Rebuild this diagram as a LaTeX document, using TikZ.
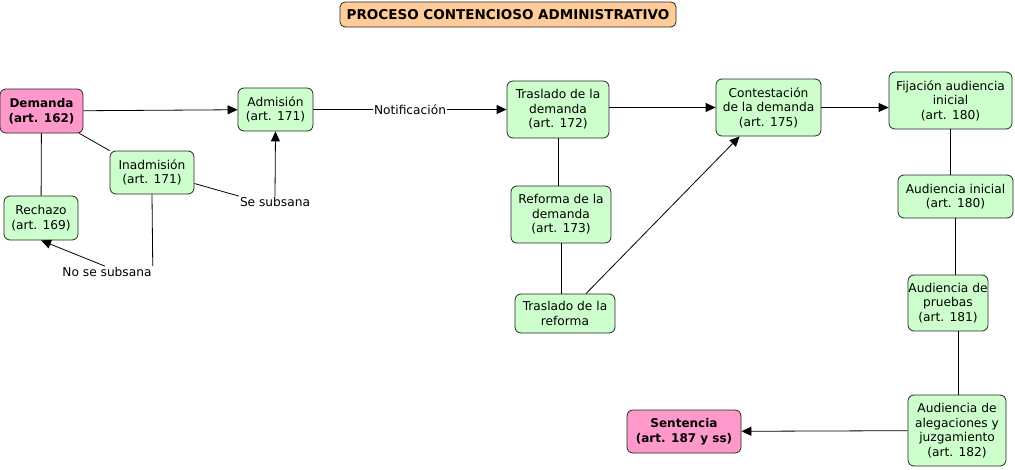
\documentclass[tikz,border=0pt]{standalone}
\usepackage{fontspec}
\setmainfont{DejaVu Sans}
\usepackage{xcolor}
\usetikzlibrary{arrows.meta}
\definecolor{stepgreen}{HTML}{CCFFCC}
\definecolor{keypink}{HTML}{FF99CC}
\definecolor{titlepeach}{HTML}{FFCC99}
\tikzstyle{step-box} = [draw=black!85, fill=stepgreen, rounded corners=6pt,
    rectangle, inner sep=0pt, align=center, line width=0.8pt,
    font=\fontsize{12.2}{14.5}\selectfont]
\tikzstyle{key-box} = [step-box, fill=keypink, font=\fontsize{12}{14.5}\selectfont\bfseries]
\tikzstyle{title-box} = [step-box, fill=titlepeach, rounded corners=5pt,
    font=\fontsize{13.5}{15}\selectfont\bfseries]
\tikzstyle{edge-label} = [inner sep=1pt, font=\fontsize{12.2}{14.5}\selectfont]
\tikzstyle{link} = [line width=0.8pt, black]
\tikzstyle{arrow-link} = [link, -{Triangle[length=10pt,width=9pt]}]

\begin{document}
\begin{tikzpicture}[x=1pt,y=-1pt]
\useasboundingbox (0,0) rectangle (1015,469);

% title
\node [title-box, minimum width=336pt, minimum height=25pt] (title) at (508,14.5)
    {PROCESO CONTENCIOSO ADMINISTRATIVO};

% left part: demanda and admission
\node [key-box, minimum width=83pt, minimum height=44pt] (demanda) at (41.5,111) {Demanda\\(art. 162)};
\node [step-box, minimum width=75pt, minimum height=43pt] (admision) at (275.5,109.5) {Admisión\\(art. 171)};
\node [step-box, minimum width=84pt, minimum height=43pt] (inadmision) at (152,172.5) {Inadmisión\\(art. 171)};
\node [step-box, minimum width=74pt, minimum height=44pt] (rechazo) at (41,218) {Rechazo\\(art. 169)};
\node [edge-label] (subsana) at (275,202) {Se subsana};
\node [edge-label] (nosubsana) at (107,272) {No se subsana};

% middle part
\node [step-box, minimum width=102pt, minimum height=57pt] (trasladodem) at (558,109.5) {Traslado de la\\demanda\\(art. 172)};
\node [step-box, minimum width=100pt, minimum height=57pt] (reforma) at (561,214.5) {Reforma de la\\demanda\\(art. 173)};
\node [step-box, minimum width=100pt, minimum height=39pt] (trasladoref) at (565,313.5) {Traslado de la\\reforma};
\node [step-box, minimum width=105pt, minimum height=57pt] (contestacion) at (768.5,107.5) {Contestación\\de la demanda\\(art. 175)};

% right part: audiencias
\node [step-box, minimum width=123pt, minimum height=57pt] (fijacion) at (950.5,100.5) {Fijación audiencia\\inicial\\(art. 180)};
\node [step-box, minimum width=115pt, minimum height=43pt] (audinicial) at (955.5,196.5) {Audiencia inicial\\(art. 180)};
\node [step-box, minimum width=80pt, minimum height=56pt] (audpruebas) at (948,303) {Audiencia de\\pruebas\\(art. 181)};
\node [step-box, minimum width=98pt, minimum height=71pt] (audalegaciones) at (957,430.5) {Audiencia de\\alegaciones y\\juzgamiento\\(art. 182)};
\node [key-box, minimum width=114pt, minimum height=43pt] (sentencia) at (684,431.5) {Sentencia\\(art. 187 y ss)};

% connectors
\draw [arrow-link] (demanda) -- (admision);
\draw [arrow-link] (admision) -- node [edge-label, fill=white] (notificacion) {Notificación} (trasladodem);
\draw [arrow-link] (trasladodem.east |- contestacion) -- (contestacion);
\draw [arrow-link] (contestacion) -- (fijacion.west |- contestacion);
\draw [link] (demanda) -- (rechazo);
\draw [link] (demanda.south east) ++(-4,0) -- (inadmision.north west);
\draw [link] (inadmision.east) ++(0,11) -- (subsana.north west);
\draw [arrow-link] (subsana.north) -- (admision.south);
\draw [link] (inadmision.south) -- (nosubsana.north east);
\draw [arrow-link] (nosubsana.110) -- (rechazo.south);
\draw [link] (trasladodem) -- (trasladodem |- reforma.north);
\draw [link] (reforma) -- (reforma |- trasladoref.north);
\draw [arrow-link] (trasladoref.north) ++(21,0) -- ([xshift=24pt]contestacion.south west);
\draw [link] (fijacion) -- (fijacion |- audinicial.north);
\draw [link] (audinicial) -- (audinicial |- audpruebas.north);
\draw [link] (audpruebas.south) ++(10,0) -- ([xshift=1pt]audalegaciones.north);
\draw [arrow-link] (audalegaciones) -- (sentencia);
\end{tikzpicture}
\end{document}
